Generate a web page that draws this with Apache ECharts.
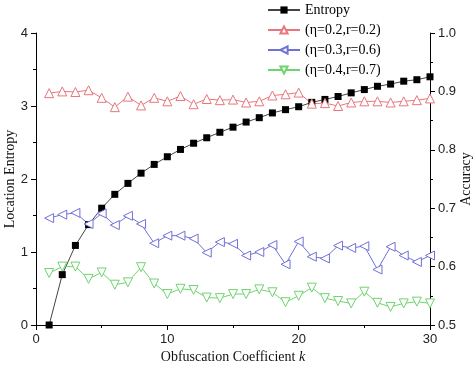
<!DOCTYPE html>
<html>
<head>
<meta charset="utf-8">
<script src="https://cdn.jsdelivr.net/npm/echarts@6/dist/echarts.min.js"></script>
<style>
  html, body { margin: 0; padding: 0; background: #fff; }
  #main { width: 474px; height: 389px; }
</style>
</head>
<body>
<div id="main"></div>
<script>
// obfuscation coefficient k = 1..30
var kValues = [1, 2, 3, 4, 5, 6, 7, 8, 9, 10, 11, 12, 13, 14, 15,
  16, 17, 18, 19, 20, 21, 22, 23, 24, 25, 26, 27, 28, 29, 30];

// location entropy (left axis)
var entropy = [0, 0.69, 1.09, 1.375, 1.6, 1.79, 1.94, 2.08, 2.2, 2.305,
  2.405, 2.49, 2.565, 2.64, 2.71, 2.78, 2.84, 2.905, 2.95, 2.99,
  3.05, 3.09, 3.13, 3.18, 3.225, 3.27, 3.3, 3.34, 3.36, 3.4];

// accuracy (right axis)
var accA = [0.897, 0.9, 0.899, 0.902, 0.889, 0.873, 0.891, 0.876, 0.889, 0.883,
  0.892, 0.878, 0.887, 0.885, 0.886, 0.881, 0.883, 0.893, 0.895, 0.898,
  0.879, 0.88, 0.875, 0.881, 0.883, 0.883, 0.881, 0.883, 0.885, 0.888];
var accB = [0.683, 0.689, 0.692, 0.673, 0.691, 0.671, 0.687, 0.673, 0.64, 0.653,
  0.653, 0.648, 0.624, 0.642, 0.639, 0.619, 0.625, 0.637, 0.604, 0.643,
  0.617, 0.614, 0.636, 0.632, 0.635, 0.595, 0.634, 0.619, 0.608, 0.619];
var accC = [0.589, 0.6, 0.6, 0.579, 0.59, 0.569, 0.573, 0.599, 0.571, 0.553,
  0.562, 0.56, 0.547, 0.546, 0.553, 0.553, 0.561, 0.556, 0.539, 0.55,
  0.564, 0.546, 0.541, 0.537, 0.557, 0.538, 0.531, 0.537, 0.54, 0.537];

var seriesNames = ['Entropy', '(η=0.2,r=0.2)', '(η=0.3,r=0.6)', '(η=0.4,r=0.7)'];

function pairs(ys) {
  return kValues.map(function (k, i) { return [k, ys[i]]; });
}

var chartDom = document.getElementById('main');
var myChart = echarts.init(chartDom);

var tickFont = { fontFamily: 'Liberation Sans', fontSize: 13, color: '#222' };
var nameFont = { fontFamily: 'Liberation Serif', fontSize: 14, color: '#111' };

function hollow(name, data, color, rotate) {
  return {
    name: name,
    type: 'line',
    yAxisIndex: 1,
    data: pairs(data),
    symbol: 'triangle',
    symbolSize: 9,
    symbolRotate: rotate,
    lineStyle: { color: color, width: 1 },
    itemStyle: { color: '#fff', borderColor: color, borderWidth: 1 }
  };
}

var option = {
  animation: false,
  grid: { left: 36, right: 44, top: 33, bottom: 64, outerBoundsMode: 'none', containLabel: false },
  legend: {
    orient: 'vertical',
    left: 262,
    top: -2,
    itemWidth: 32,
    itemHeight: 9,
    itemGap: 6,
    textStyle: { fontFamily: 'Liberation Serif', fontSize: 14, color: '#000' },
    data: seriesNames
  },
  xAxis: {
    type: 'value',
    min: 0,
    max: 30,
    interval: 10,
    name: 'Obfuscation Coefficient {i|k}',
    nameLocation: 'middle',
    nameGap: 25,
    nameMoveOverlap: false,
    nameTextStyle: Object.assign({}, nameFont, {
      rich: { i: { fontFamily: 'Liberation Serif', fontSize: 14, fontStyle: 'italic', color: '#111' } }
    }),
    axisLine: { lineStyle: { color: '#000' } },
    axisTick: { length: 5, lineStyle: { color: '#000' } },
    minorTick: { show: true, splitNumber: 2, length: 3, lineStyle: { color: '#000' } },
    axisLabel: tickFont,
    splitLine: { show: false }
  },
  yAxis: [
    {
      type: 'value',
      min: 0,
      max: 4,
      interval: 1,
      name: 'Location Entropy',
      nameLocation: 'middle',
      nameGap: 19,
      nameMoveOverlap: false,
      nameTextStyle: nameFont,
      axisLine: { show: true, lineStyle: { color: '#000' } },
      axisTick: { show: true, length: 5, lineStyle: { color: '#000' } },
      minorTick: { show: true, splitNumber: 2, length: 3, lineStyle: { color: '#000' } },
      axisLabel: tickFont,
      splitLine: { show: false }
    },
    {
      type: 'value',
      position: 'right',
      min: 0.5,
      max: 1.0,
      interval: 0.1,
      name: 'Accuracy',
      nameLocation: 'middle',
      nameRotate: 90,
      nameGap: 29,
      nameMoveOverlap: false,
      nameTextStyle: nameFont,
      axisLine: { show: true, lineStyle: { color: '#000' } },
      axisTick: { show: true, length: 5, lineStyle: { color: '#000' } },
      minorTick: { show: true, splitNumber: 2, length: 3, lineStyle: { color: '#000' } },
      axisLabel: Object.assign({}, tickFont, {
        formatter: function (v) { return v.toFixed(1); }
      }),
      splitLine: { show: false }
    }
  ],
  series: [
    {
      name: seriesNames[0],
      type: 'line',
      yAxisIndex: 0,
      data: pairs(entropy),
      symbol: 'rect',
      symbolSize: 7,
      lineStyle: { color: '#444', width: 1 },
      itemStyle: { color: '#000' },
      z: 3
    },
    hollow(seriesNames[1], accA, '#e8757c', 0),
    hollow(seriesNames[2], accB, '#7070d8', 90),
    hollow(seriesNames[3], accC, '#6fd36f', 180)
  ]
};

option && myChart.setOption(option);
</script>
</body>
</html>
